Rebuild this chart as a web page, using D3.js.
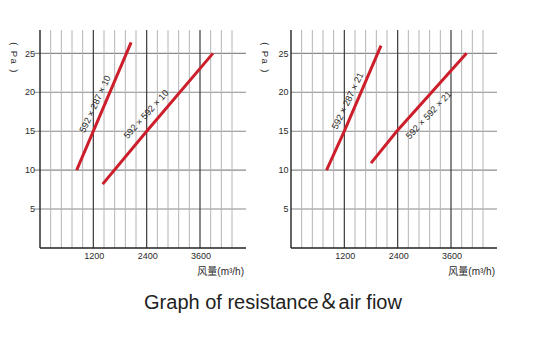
<!DOCTYPE html>
<html>
<head>
<meta charset="utf-8">
<script src="https://cdn.jsdelivr.net/npm/d3@7"></script>
<style>
  html, body { margin: 0; padding: 0; background: #fff; }
  svg { display: block; }
  text { font-family: "Liberation Sans", Arial, sans-serif; fill: #2a2a2a; }
</style>
</head>
<body>
<svg id="chart" width="536" height="346"></svg>
<script>
// Air flow (m³/h) vs. resistance (Pa) for four filter sizes
const xTicks = [1200, 2400, 3600];
const xGrid = d3.range(240, 4400, 240);
const yTicks = [5, 10, 15, 20, 25];

const leftNames = ["592 × 287 × 10", "592 × 592 × 10"];
const leftFlow = [[825, 1200, 2050], [1410, 2400, 3890]];
const leftPa = [[10, 15, 26.4], [8.2, 15, 25]];
const leftLabelAt = [[1237, 18.5], [2385, 17.2]];

const rightNames = ["592 × 287 × 21", "592 × 592 × 21"];
const rightFlow = [[800, 1200, 2025], [1800, 2380, 3950]];
const rightPa = [[10, 15, 26], [10.9, 15, 25]];
const rightLabelAt = [[1271, 18.9], [3094, 17.1]];

const title = "Graph of resistance";
const titleAmp = "＆";
const titleEnd = "air fiow";
const xTitle = "风量(m³/h)";
const yTitle = "( Pa )";

const svg = d3.select("#chart");

function panel(left, names, flows, pas, labelAt, tickGap, gridOut) {
  const x = d3.scaleLinear().domain([0, 4635]).range([left, left + 206]);
  const y = d3.scaleLinear().domain([0, 28]).range([248, 30]);
  const g = svg.append("g");

  // horizontal grid lines
  g.selectAll(".hg").data(yTicks).join("line")
    .attr("x1", x(0) - gridOut).attr("x2", x.range()[1])
    .attr("y1", d => y(d)).attr("y2", d => y(d))
    .attr("stroke", "#8a8a8a").attr("stroke-width", 1.1);

  // vertical grid lines, darker at labelled flows
  g.selectAll(".vg").data(xGrid).join("line")
    .attr("x1", d => x(d)).attr("x2", d => x(d))
    .attr("y1", y(0)).attr("y2", y(28))
    .attr("stroke", d => xTicks.includes(d) ? "#3a3a3a" : "#b4b4b4")
    .attr("stroke-width", d => xTicks.includes(d) ? 1.2 : 1);

  // axes
  g.append("line").attr("x1", x(0)).attr("x2", x(0)).attr("y1", y(0)).attr("y2", y(28))
    .attr("stroke", "#222").attr("stroke-width", 1.4);
  g.append("line").attr("x1", x(0)).attr("x2", x.range()[1]).attr("y1", y(0)).attr("y2", y(0))
    .attr("stroke", "#222").attr("stroke-width", 1.4);

  g.selectAll(".yt").data(yTicks).join("text")
    .attr("x", x(0) - tickGap).attr("y", d => y(d)).attr("dy", "0.35em")
    .attr("text-anchor", "end").attr("font-size", 9).text(d => d);

  g.selectAll(".xt").data(xTicks).join("text")
    .attr("x", d => x(d) + 1).attr("y", 258.8)
    .attr("text-anchor", "middle").attr("font-size", 9).text(d => d);

  g.append("text").attr("x", x.range()[1] - 2).attr("y", 274.8)
    .attr("text-anchor", "end").attr("font-size", 10)
    .style("font-family", "'Liberation Sans', 'Noto Sans CJK SC', sans-serif")
    .text(xTitle);

  g.append("text").attr("transform", `translate(${x(0) - 26},58) rotate(90)`)
    .attr("text-anchor", "middle").attr("dy", "0.35em").attr("font-size", 9.5)
    .attr("letter-spacing", 1.4)
    .text(yTitle);

  const line = d3.line().x(d => x(d[0])).y(d => y(d[1]));
  names.forEach((name, i) => {
    const pts = flows[i].map((f, j) => [f, pas[i][j]]);
    g.append("path").attr("d", line(pts))
      .attr("fill", "none").attr("stroke", "#cc1f2b").attr("stroke-width", 3)
      .attr("stroke-linecap", "butt");
    const p0 = pts[0], p1 = pts[pts.length - 1];
    const ang = Math.atan2(y(p1[1]) - y(p0[1]), x(p1[0]) - x(p0[0])) * 180 / Math.PI;
    g.append("text")
      .attr("transform", `translate(${x(labelAt[i][0])},${y(labelAt[i][1])}) rotate(${ang + 2})`)
      .attr("text-anchor", "middle").attr("dy", "0.35em").attr("font-size", 9.2)
      .text(name);
  });
}

panel(40, leftNames, leftFlow, leftPa, leftLabelAt, 5, 6);
panel(291, rightNames, rightFlow, rightPa, rightLabelAt, 2.5, 0);

const t = svg.append("text").attr("x", 273).attr("y", 309).attr("text-anchor", "middle")
  .attr("font-size", 20).style("fill", "#222");
t.append("tspan").text(title);
t.append("tspan").style("font-family", "'Noto Sans CJK SC', sans-serif").text(titleAmp);
t.append("tspan").text(titleEnd);
</script>
</body>
</html>
